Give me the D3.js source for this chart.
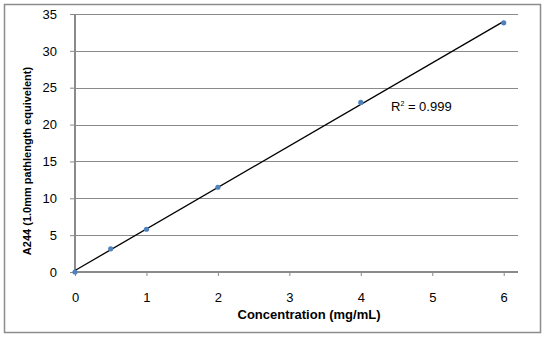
<!DOCTYPE html>
<html>
<head>
<meta charset="utf-8">
<script src="https://cdn.jsdelivr.net/npm/d3@7"></script>
<style>
  html, body { margin: 0; padding: 0; background: #fff; }
  svg { display: block; font-family: "Liberation Sans", Arial, sans-serif; }
</style>
</head>
<body>
<svg id="chart" width="547" height="338"></svg>
<script>
// Calibration standards: concentration (mg/mL) vs A244
const concentrations = [0, 0.5, 1, 2, 4, 6];
const absorbance = [0, 3.15, 5.8, 11.5, 23.0, 33.8];
const xTicks = [0, 1, 2, 3, 4, 5, 6];
const yTicks = [0, 5, 10, 15, 20, 25, 30, 35];

const svg = d3.select("#chart");

// outer frame
svg.append("rect")
  .attr("x", 4.5).attr("y", 4.5)
  .attr("width", 536).attr("height", 328)
  .attr("fill", "#fff").attr("stroke", "#8c8c8c").attr("stroke-width", 1.5);

const x = d3.scaleLinear().domain([0, 6.2]).range([75, 518]);
const y = d3.scaleLinear().domain([0, 35]).range([272, 14]);

// horizontal gridlines
svg.append("g").selectAll("line")
  .data(yTicks.filter(d => d > 0))
  .join("line")
  .attr("x1", x(0)).attr("x2", x(6.2))
  .attr("y1", d => Math.round(y(d)) + 0.5).attr("y2", d => Math.round(y(d)) + 0.5)
  .attr("stroke", "#8a8a8a").attr("stroke-width", 1);

// axes
const xAxis = d3.axisBottom(x).tickValues(xTicks).tickSize(4).tickPadding(17).tickFormat(d3.format("d"));
const yAxis = d3.axisLeft(y).tickValues(yTicks).tickSize(5).tickPadding(13).tickFormat(d3.format("d"));

const gx = svg.append("g").attr("transform", `translate(0,${y(0)})`).call(xAxis);
const gy = svg.append("g").attr("transform", `translate(${x(0)},0)`).call(yAxis);

[gx, gy].forEach(g => {
  g.select(".domain").attr("stroke", "#8a8a8a").attr("stroke-width", 2);
  g.selectAll(".tick line").attr("stroke", "#8a8a8a").attr("stroke-width", 1);
  g.selectAll(".tick text").attr("fill", "#000").attr("font-size", 13)
    .attr("font-family", "'Liberation Sans', Arial, sans-serif");
});
gx.select(".domain").attr("d", `M${x(0)},0H${x(6.2)}`);
gy.select(".domain").attr("d", `M0,${y(0)}V${y(35)}`);

// least-squares trendline
const n = concentrations.length;
const mx = d3.mean(concentrations), my = d3.mean(absorbance);
let sxy = 0, sxx = 0;
for (let i = 0; i < n; i++) {
  sxy += (concentrations[i] - mx) * (absorbance[i] - my);
  sxx += (concentrations[i] - mx) ** 2;
}
const slope = sxy / sxx, intercept = my - slope * mx;

svg.append("line")
  .attr("x1", x(0)).attr("y1", y(intercept))
  .attr("x2", x(6)).attr("y2", y(intercept + slope * 6))
  .attr("stroke", "#000").attr("stroke-width", 1.3);

// data points
svg.append("g").selectAll("circle")
  .data(concentrations.map((c, i) => [c, absorbance[i]]))
  .join("circle")
  .attr("cx", d => x(d[0])).attr("cy", d => y(d[1]))
  .attr("r", 2.6).attr("fill", "#4f81bd");

// R² annotation
const r2 = svg.append("text")
  .attr("x", 391).attr("y", 111)
  .attr("font-size", 13).attr("fill", "#000");
r2.append("tspan").text("R");
r2.append("tspan").attr("font-size", 7).attr("dy", -5).text("2");
r2.append("tspan").attr("dy", 5).text(" = 0.999");

// axis titles
svg.append("text")
  .attr("x", 309).attr("y", 319)
  .attr("text-anchor", "middle").attr("font-size", 13).attr("font-weight", "bold")
  .text("Concentration (mg/mL)");

svg.append("text")
  .attr("transform", `translate(31,161) rotate(-90)`)
  .attr("text-anchor", "middle").attr("font-size", 11).attr("font-weight", "bold")
  .text("A244 (1.0mm pathlength equivelent)");
</script>
</body>
</html>
